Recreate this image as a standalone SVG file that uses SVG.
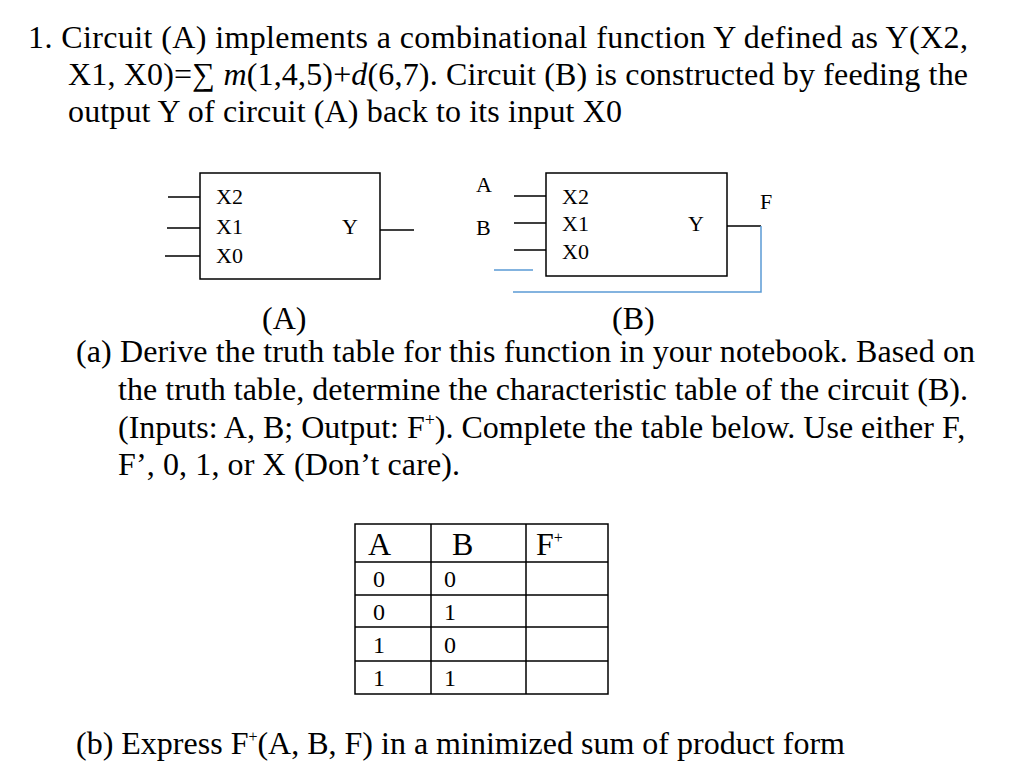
<svg xmlns="http://www.w3.org/2000/svg" width="1024" height="765" viewBox="0 0 1024 765">
<style>
text{font-family:"Liberation Serif","Times New Roman",serif;fill:#000}
.t{font-size:32px}
.s{font-size:22px}
.n{font-size:24px}
.k{stroke:#000;stroke-width:1.5;fill:none}
.b{stroke:#5b9bd5;stroke-width:1.5;fill:none}
</style>
<rect width="1024" height="765" fill="#fff"/>
<g id="question">
<text class="t" x="28" y="48" textLength="940">1.  Circuit (A) implements a combinational function Y defined as Y(X2,</text>
<text class="t" x="68" y="85" textLength="900">X1, X0)=∑ <tspan font-style="italic">m</tspan>(1,4,5)+<tspan font-style="italic">d</tspan>(6,7). Circuit (B) is constructed by feeding the</text>
<text class="t" x="68" y="122" textLength="554">output Y of circuit (A) back to its input X0</text>
</g>
<g id="circuitA">
<rect class="k" x="200" y="173" width="180" height="106"/>
<text class="s" x="216" y="204">X2</text>
<text class="s" x="216" y="234">X1</text>
<text class="s" x="216" y="263">X0</text>
<text class="s" x="342" y="234">Y</text>
<text class="t" x="262" y="329">(A)</text>
</g>
<g id="circuitB">
<rect class="k" x="546" y="173" width="181" height="103"/>
<text class="s" x="562" y="204">X2</text>
<text class="s" x="562" y="231">X1</text>
<text class="s" x="562" y="259">X0</text>
<text class="s" x="688" y="231">Y</text>
<text class="s" x="476" y="192">A</text>
<text class="s" x="476" y="235">B</text>
<text class="s" x="760" y="209">F</text>
<text class="t" x="612" y="329">(B)</text>
</g>
<g id="connectors">
<path class="k" d="M168 197H200M167 228H200M165 256H200M380 230H414"/>
<path class="k" d="M514 196H546M514 223H546M514 250H546M727 226H761"/>
<path class="b" d="M494 270H533M761 226V292H513"/>
</g>
<g id="partA">
<text class="t" x="76" y="362" textLength="899">(a) Derive the truth table for this function in your notebook. Based on</text>
<text class="t" x="118" y="400" textLength="850">the truth table, determine the characteristic table of the circuit (B).</text>
<text class="t" x="118" y="438">(Inputs: A, B; Output: F<tspan font-size="18" dy="-12">+</tspan><tspan dy="12">). Complete the table below. Use either F,</tspan></text>
<text class="t" x="118" y="475" textLength="342">F’, 0, 1, or X (Don’t care).</text>
</g>
<g id="table">
<path class="k" d="M355 524H608V694H355ZM431 524V694M526 524V694M355 562H608M355 595H608M355 627H608M355 661H608"/>
<text class="t" x="368" y="555">A</text>
<text class="t" x="452" y="555">B</text>
<text class="t" x="536" y="555">F<tspan font-size="16" dy="-12">+</tspan></text>
<text class="n" x="373" y="587">0</text><text class="n" x="444" y="587">0</text>
<text class="n" x="373" y="620">0</text><text class="n" x="444" y="620">1</text>
<text class="n" x="373" y="653">1</text><text class="n" x="444" y="653">0</text>
<text class="n" x="373" y="686">1</text><text class="n" x="444" y="686">1</text>
</g>
<g id="partB">
<text class="t" x="76" y="754">(b) Express F<tspan font-size="16" dy="-12">+</tspan><tspan dy="12">(A, B, F) in a minimized sum of product form</tspan></text>
</g>
</svg>
